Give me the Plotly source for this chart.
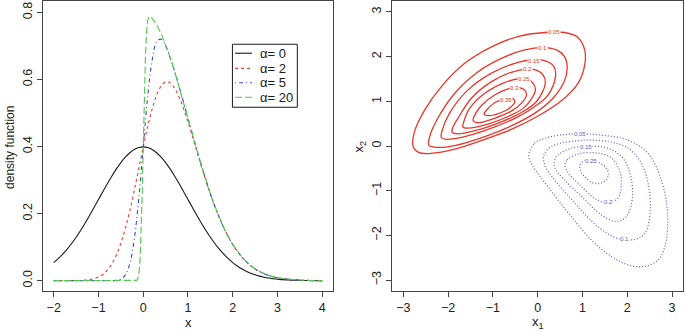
import plotly.graph_objects as go

# ---------------- Left panel data (skew-normal densities) ----------------
x_grid = [-2.0, -1.9, -1.8, -1.7, -1.6, -1.5, -1.4, -1.3, -1.2, -1.1, -1.0, -0.9, -0.8, -0.7, -0.6,
          -0.5, -0.4, -0.3, -0.2, -0.1, 0.0, 0.1, 0.2, 0.3, 0.4, 0.5, 0.6, 0.7, 0.8, 0.9, 1.0,
          1.1, 1.2, 1.3, 1.4, 1.5, 1.6, 1.7, 1.8, 1.9, 2.0, 2.1, 2.2, 2.3, 2.4, 2.5, 2.6, 2.7,
          2.8, 2.9, 3.0, 3.1, 3.2, 3.3, 3.4, 3.5, 3.6, 3.7, 3.8, 3.9, 4.0]

dens_a0 = [0.0540, 0.0656, 0.0790, 0.0940, 0.1109, 0.1295, 0.1497, 0.1714, 0.1942, 0.2179, 0.2420,
           0.2661, 0.2897, 0.3123, 0.3332, 0.3521, 0.3683, 0.3814, 0.3910, 0.3970, 0.3989, 0.3970,
           0.3910, 0.3814, 0.3683, 0.3521, 0.3332, 0.3123, 0.2897, 0.2661, 0.2420, 0.2179, 0.1942,
           0.1714, 0.1497, 0.1295, 0.1109, 0.0940, 0.0790, 0.0656, 0.0540, 0.0440, 0.0355, 0.0283,
           0.0224, 0.0175, 0.0136, 0.0104, 0.0079, 0.0060, 0.0044, 0.0033, 0.0024, 0.0017, 0.0012,
           0.0009, 0.0006, 0.0004, 0.0003, 0.0002, 0.0001]

dens_a2 = [0.0000, 0.0000, 0.0000, 0.0001, 0.0002, 0.0003, 0.0008, 0.0016, 0.0032, 0.0061, 0.0110,
           0.0191, 0.0318, 0.0505, 0.0767, 0.1118, 0.1561, 0.2092, 0.2695, 0.3340, 0.3989, 0.4600,
           0.5125, 0.5536, 0.5805, 0.5924, 0.5897, 0.5741, 0.5477, 0.5131, 0.4730, 0.4297, 0.3852,
           0.3412, 0.2986, 0.2587, 0.2216, 0.1879, 0.1579, 0.1312, 0.1080, 0.0880, 0.0710, 0.0566,
           0.0448, 0.0350, 0.0272, 0.0208, 0.0158, 0.0119, 0.0089, 0.0066, 0.0048, 0.0034, 0.0025,
           0.0017, 0.0012, 0.0008, 0.0006, 0.0004, 0.0003]

dens_a5 = [0.0000, 0.0000, 0.0000, 0.0000, 0.0000, 0.0000, 0.0000, 0.0000, 0.0000, 0.0000, 0.0000,
           0.0000, 0.0000, 0.0001, 0.0009, 0.0044, 0.0168, 0.0510, 0.1241, 0.2450, 0.3989, 0.5491,
           0.6579, 0.7119, 0.7198, 0.6998, 0.6655, 0.6245, 0.5794, 0.5322, 0.4840, 0.4358, 0.3884,
           0.3428, 0.2994, 0.2590, 0.2218, 0.1880, 0.1580, 0.1312, 0.1080, 0.0880, 0.0710, 0.0566,
           0.0448, 0.0350, 0.0272, 0.0208, 0.0158, 0.0119, 0.0089, 0.0066, 0.0048, 0.0034, 0.0025,
           0.0017, 0.0012, 0.0008, 0.0006, 0.0004, 0.0003]

x_a20 = [-2.0, -0.2, -0.15, -0.125, -0.1, -0.075, -0.05, -0.025, 0.0, 0.025, 0.05, 0.075, 0.1,
         0.125, 0.15, 0.2, 0.25, 0.3, 0.4, 0.5, 0.6, 0.7, 0.8, 0.9, 1.0, 1.1, 1.2, 1.3, 1.4, 1.5,
         1.6, 1.7, 1.8, 1.9, 2.0, 2.2, 2.4, 2.6, 2.8, 3.0, 3.2, 3.4, 3.6, 3.8, 4.0]
dens_a20 = [0.0000, 0.0000, 0.0011, 0.0049, 0.0181, 0.0531, 0.1265, 0.2461, 0.3989, 0.5515, 0.6703,
            0.7425, 0.7759, 0.7867, 0.7879, 0.7820, 0.7734, 0.7628, 0.7366, 0.7042, 0.6664, 0.6246,
            0.5794, 0.5322, 0.4840, 0.4358, 0.3884, 0.3428, 0.2994, 0.2590, 0.2218, 0.1880, 0.1580,
            0.1312, 0.1080, 0.0710, 0.0448, 0.0272, 0.0158, 0.0089, 0.0048, 0.0025, 0.0012, 0.0006,
            0.0003]

legend_labels = ["α= 0", "α= 2", "α= 5", "α= 20"]
left_xticks = [-2, -1, 0, 1, 2, 3, 4]
left_yticks = [0.0, 0.2, 0.4, 0.6, 0.8]
left_yticktext = ["0.0", "0.2", "0.4", "0.6", "0.8"]

# ---------------- Right panel data (contour lines) ----------------
red_levels = ["0.05", "0.1", "0.15", "0.2", "0.25", "0.3", "0.35"]
red_x1 = [
    [-2.78, -2.64, -2.34, -1.85, -1.18, -0.59, 0.01, 0.53, 0.90, 1.05, 1.05, 0.90, 0.60, 0.16, -0.44, -1.03, -1.63, -2.15, -2.52, -2.75],
    [-2.43, -2.26, -1.85, -1.18, -0.59, -0.07, 0.34, 0.59, 0.66, 0.60, 0.42, 0.14, -0.29, -0.81, -1.33, -1.85, -2.23, -2.41],
    [-2.15, -2.04, -1.63, -1.03, -0.51, -0.07, 0.23, 0.40, 0.36, 0.19, -0.10, -0.51, -1.03, -1.56, -1.97, -2.14],
    [-1.91, -1.79, -1.33, -0.81, -0.36, -0.03, 0.17, 0.12, -0.03, -0.23, -0.59, -1.03, -1.48, -1.78, -1.90],
    [-1.67, -1.56, -1.11, -0.66, -0.29, -0.05, -0.10, -0.22, -0.40, -0.74, -1.18, -1.52, -1.65],
    [-1.44, -1.33, -0.96, -0.59, -0.36, -0.25, -0.29, -0.44, -0.66, -0.96, -1.26, -1.42],
    [-1.20, -1.11, -0.81, -0.59, -0.51, -0.55, -0.70, -0.92, -1.11, -1.19],
]
red_x2 = [
    [-0.01, -0.15, -0.16, -0.07, 0.15, 0.37, 0.67, 1.01, 1.40, 1.81, 2.15, 2.43, 2.54, 2.54, 2.45, 2.22, 1.85, 1.33, 0.81, 0.32],
    [0.02, -0.03, 0.01, 0.21, 0.45, 0.73, 1.07, 1.44, 1.74, 2.00, 2.15, 2.20, 2.15, 1.96, 1.66, 1.18, 0.62, 0.21],
    [0.19, 0.15, 0.21, 0.40, 0.62, 0.88, 1.14, 1.57, 1.78, 1.90, 1.93, 1.85, 1.63, 1.25, 0.73, 0.32],
    [0.31, 0.27, 0.36, 0.54, 0.75, 0.99, 1.40, 1.59, 1.70, 1.72, 1.65, 1.44, 1.07, 0.62, 0.40],
    [0.43, 0.40, 0.49, 0.66, 0.87, 1.25, 1.40, 1.49, 1.51, 1.42, 1.18, 0.84, 0.54],
    [0.57, 0.52, 0.62, 0.78, 0.96, 1.14, 1.25, 1.31, 1.28, 1.14, 0.90, 0.66],
    [0.71, 0.68, 0.75, 0.88, 0.99, 1.06, 1.05, 0.99, 0.84, 0.74],
]
red_label_x1 = [0.356, 0.118, -0.083, -0.217, -0.314, -0.515, -0.70]
red_label_x2 = [2.545, 2.187, 1.91, 1.717, 1.49, 1.305, 1.03]

blue_levels = ["0.05", "0.1", "0.15", "0.2", "0.25"]
blue_x1 = [
    [-0.20, -0.07, 0.16, 0.53, 0.94, 1.35, 2.02, 2.46, 2.76, 2.90, 2.84, 2.69, 2.35, 1.94, 1.35, 0.75, 0.23, -0.10],
    [0.14, 0.31, 0.90, 1.57, 2.02, 2.32, 2.48, 2.51, 2.39, 2.17, 1.79, 1.35, 0.83, 0.38, 0.16],
    [0.38, 0.45, 0.75, 1.06, 1.57, 1.91, 2.08, 2.11, 1.98, 1.76, 1.42, 0.98, 0.60, 0.39],
    [0.61, 0.66, 0.90, 1.27, 1.61, 1.81, 1.87, 1.79, 1.57, 1.27, 0.94, 0.69],
    [0.95, 1.05, 1.18, 1.35, 1.52, 1.58, 1.52, 1.38, 1.22, 1.06, 0.96],
]
blue_x2 = [
    [-0.22, 0.06, 0.17, 0.25, 0.27, 0.25, 0.13, -0.16, -0.76, -1.51, -2.25, -2.55, -2.70, -2.63, -2.25, -1.58, -0.91, -0.46],
    [-0.20, -0.01, 0.12, 0.10, -0.05, -0.39, -0.91, -1.51, -1.96, -2.09, -2.07, -1.81, -1.28, -0.76, -0.43],
    [-0.31, -0.20, -0.05, -0.01, -0.05, -0.28, -0.69, -1.21, -1.58, -1.69, -1.54, -1.13, -0.76, -0.50],
    [-0.43, -0.31, -0.18, -0.15, -0.24, -0.50, -0.87, -1.17, -1.27, -1.17, -0.87, -0.61],
    [-0.42, -0.32, -0.30, -0.36, -0.48, -0.62, -0.77, -0.84, -0.82, -0.70, -0.56],
]
blue_label_x1 = [0.953, 1.94, 1.071, 1.59, 1.183]
blue_label_x2 = [0.269, -2.08, -0.015, -1.247, -0.336]
right_ticks = [-3, -2, -1, 0, 1, 2, 3]

# ---------------- Styling ----------------
FONT = "Liberation Sans, Arial, Helvetica, sans-serif"
C_BLACK = "#1a1a1a"
C_RED = "#ec3b32"
C_BLUE = "#3a48cc"
C_GREEN = "#4cc84c"
C_CRED = "#e8372c"
C_CBLUE = "#5560c4"

fig = go.Figure()

series = [
    (x_grid, dens_a0, C_BLACK, "solid", "spline"),
    (x_grid, dens_a2, C_RED, "3px,3px", "spline"),
    (x_grid, dens_a5, C_BLUE, "1px,3px,4px,3px", "spline"),
    (x_a20, dens_a20, C_GREEN, "7px,3px", "linear"),
]
for (xs, ys, col, dash, shape), name in zip(series, legend_labels):
    fig.add_trace(go.Scatter(x=xs, y=ys, mode="lines", name=name, showlegend=False,
                             line=dict(color=col, width=1.1, dash=dash, shape=shape),
                             xaxis="x", yaxis="y", hoverinfo="skip"))

for i, lev in enumerate(red_levels):
    fig.add_trace(go.Scatter(x=red_x1[i] + red_x1[i][:1], y=red_x2[i] + red_x2[i][:1],
                             mode="lines", showlegend=False, hoverinfo="skip",
                             line=dict(color=C_CRED, width=1.3, shape="spline", smoothing=1.0),
                             xaxis="x2", yaxis="y2"))
for i, lev in enumerate(blue_levels):
    fig.add_trace(go.Scatter(x=blue_x1[i] + blue_x1[i][:1], y=blue_x2[i] + blue_x2[i][:1],
                             mode="lines", showlegend=False, hoverinfo="skip",
                             line=dict(color=C_CBLUE, width=1.2, dash="1px,2px", shape="spline", smoothing=1.0),
                             xaxis="x2", yaxis="y2"))

annotations = []
for lev, ax, ay in zip(red_levels, red_label_x1, red_label_x2):
    annotations.append(dict(x=ax, y=ay, xref="x2", yref="y2", text=lev, showarrow=False,
                            font=dict(size=6, color=C_CRED, family=FONT), bgcolor="white", borderpad=0))
for lev, ax, ay in zip(blue_levels, blue_label_x1, blue_label_x2):
    annotations.append(dict(x=ax, y=ay, xref="x2", yref="y2", text=lev, showarrow=False,
                            font=dict(size=6, color=C_CBLUE, family=FONT), bgcolor="white", borderpad=0))

# manual R-style legend
shapes = [dict(type="rect", xref="x", yref="y", x0=1.993, x1=3.443, y0=0.517, y1=0.7048,
               line=dict(color=C_BLACK, width=1), fillcolor="white", layer="above")]
leg_rows = [0.678, 0.633, 0.590, 0.547]
for (xs, ys, col, dash, shape), lab, ry in zip(series, legend_labels, leg_rows):
    shapes.append(dict(type="line", xref="x", yref="y", x0=2.053, x1=2.432, y0=ry, y1=ry,
                       line=dict(color=col, width=1.1, dash=dash), layer="above"))
    annotations.append(dict(x=2.56, y=ry, xref="x", yref="y", text=lab, showarrow=False,
                            xanchor="left", yanchor="middle",
                            font=dict(size=13, color=C_BLACK, family=FONT)))

# axis titles
annotations += [
    dict(x=0.228, y=-0.110, xref="paper", yref="paper", text="x", showarrow=False,
         font=dict(size=13, color="#222", family=FONT), xanchor="center", yanchor="middle"),
    dict(x=-0.0516, y=0.4966, xref="paper", yref="paper", text="density function", showarrow=False,
         textangle=-90, font=dict(size=12, color="#222", family=FONT), xanchor="center", yanchor="middle"),
    dict(x=0.773, y=-0.109, xref="paper", yref="paper", text="x<sub>1</sub>", showarrow=False,
         font=dict(size=13, color="#222", family=FONT), xanchor="center", yanchor="middle"),
    dict(x=0.495, y=0.4976, xref="paper", yref="paper", text="x<sub>2</sub>", showarrow=False,
         textangle=-90, font=dict(size=13, color="#222", family=FONT), xanchor="center", yanchor="middle"),
]

axis_common = dict(showgrid=False, zeroline=False, showline=True, mirror=True,
                   linecolor="#444", linewidth=1, ticks="outside", ticklen=5, tickwidth=1,
                   tickcolor="#444", tickfont=dict(size=12.5, color="#222", family=FONT))

fig.update_layout(
    width=685, height=334,
    margin=dict(l=43, r=2, t=1, b=43),
    paper_bgcolor="white", plot_bgcolor="white",
    showlegend=False,
    xaxis=dict(domain=[0, 0.4531], range=[-2.24, 4.24], tickvals=left_xticks,
               ticktext=["\u22122", "\u22121", "0", "1", "2", "3", "4"], anchor="y", **axis_common),
    yaxis=dict(domain=[0, 1], range=[-0.0307, 0.8337], tickvals=left_yticks, ticktext=left_yticktext,
               tickangle=-90, anchor="x", **axis_common),
    xaxis2=dict(domain=[0.5458, 1], range=[-3.245, 3.245], tickvals=right_ticks,
                ticktext=["\u22123", "\u22122", "\u22121", "0", "1", "2", "3"], anchor="y2", **axis_common),
    yaxis2=dict(domain=[0, 1], range=[-3.245, 3.245], tickvals=right_ticks,
                ticktext=["\u22123", "\u22122", "\u22121", "0", "1", "2", "3"],
                tickangle=-90, anchor="x2", **axis_common),
    shapes=shapes,
    annotations=annotations,
)

fig.write_html("out.html", config={"displayModeBar": False},
               post_script="document.body.style.margin='0px';document.body.style.padding='0px';")
